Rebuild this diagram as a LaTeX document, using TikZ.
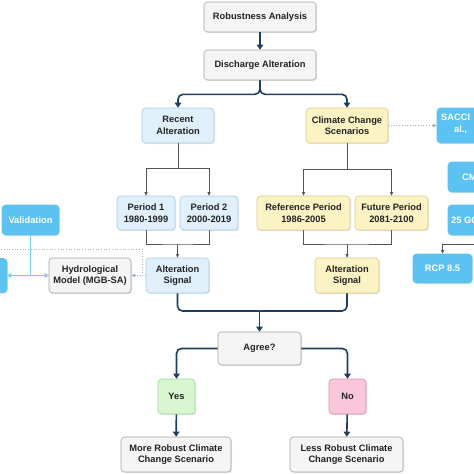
\documentclass[tikz,border=0pt]{standalone}
\usepackage{fontspec}
\setmainfont{Liberation Sans}
\usetikzlibrary{arrows.meta,shadows}
\definecolor{navy}{HTML}{1F3D5C}
\definecolor{txt}{HTML}{222222}
\definecolor{grayfill}{HTML}{F5F5F5}
\definecolor{grayline}{HTML}{A3A3A3}
\definecolor{bluefill}{HTML}{DFF0FB}
\definecolor{blueline}{HTML}{A9CCE3}
\definecolor{yelfill}{HTML}{FCF3C4}
\definecolor{yelline}{HTML}{D9C98A}
\definecolor{yesfill}{HTML}{D8F5D0}
\definecolor{yesline}{HTML}{9ED69A}
\definecolor{nofill}{HTML}{F9C6DC}
\definecolor{noline}{HTML}{D890B0}
\definecolor{sky}{HTML}{5BC2F2}
\definecolor{skyline}{HTML}{7CCBF2}
\definecolor{dotline}{HTML}{9FB0BF}
\definecolor{thinline}{HTML}{555555}
\begin{document}
\begin{tikzpicture}[x=1pt,y=-1pt,
  box/.style={draw, rounded corners=3.5pt, line width=0.6pt, inner sep=1pt, align=center,
    font=\fontsize{9.3}{11.5}\selectfont\bfseries, text=txt,
    drop shadow={shadow xshift=1pt, shadow yshift=-1.2pt, opacity=0.2}},
  graybox/.style={box, fill=grayfill, draw=grayline},
  bluebox/.style={box, fill=bluefill, draw=blueline},
  yelbox/.style={box, fill=yelfill, draw=yelline},
  skybox/.style={box, fill=sky, draw=sky, text=white},
  navyarrow/.style={draw=navy, line width=1.6pt, rounded corners=5pt, -{Triangle[length=5pt,width=6.5pt]}},
  navyline/.style={draw=navy, line width=1.6pt, rounded corners=5pt},
  thinarrow/.style={draw=thinline, line width=0.7pt, -{Triangle[length=3.5pt,width=3pt]}},
  thinline/.style={draw=thinline, line width=0.7pt},
  dotarrow/.style={draw=dotline, line width=0.7pt, dotted, -{Triangle[length=3.5pt,width=3pt]}},
  skyarrow/.style={draw=skyline, line width=1.3pt, -{Triangle[length=4pt,width=5pt]}}]
\clip (0,0) rectangle (474,474);

\node[graybox, minimum width=112pt, minimum height=30pt] (robust) at (260,17) {Robustness Analysis};
\node[graybox, minimum width=112pt, minimum height=30pt] (disc) at (260,65) {Discharge Alteration};

\node[bluebox, minimum width=72pt, minimum height=35pt] (recent) at (178,125.5) {Recent\\Alteration};
\node[yelbox, minimum width=82pt, minimum height=35pt] (ccs) at (347,125.5) {Climate Change\\Scenarios};
\node[skybox, minimum width=82pt, minimum height=35pt] (sacci) at (478,125.5) {};
\node[anchor=north west, inner sep=0pt, align=left, text=white, font=\fontsize{9.3}{11.5}\selectfont\bfseries] (saccitxt) at (441,114) {SACCI\\\hphantom{SA}al.,};

\node[bluebox, minimum width=58pt, minimum height=34pt] (p1) at (146,213) {Period 1\\1980-1999};
\node[bluebox, minimum width=58pt, minimum height=34pt] (p2) at (209,213) {Period 2\\2000-2019};
\node[yelbox, minimum width=93pt, minimum height=34pt] (ref) at (303.5,213) {Reference Period\\1986-2005};
\node[yelbox, minimum width=73pt, minimum height=34pt] (fut) at (391.5,213) {Future Period\\2081-2100};

\node[skybox, minimum width=72pt, minimum height=30pt] (cmip) at (484,177) {};
\node[anchor=west, inner sep=0pt, text=white, font=\fontsize{9.3}{11.5}\selectfont\bfseries] (cmiptxt) at (462,177) {CMIP5};
\node[skybox, minimum width=72pt, minimum height=30pt] (gcm) at (484,220) {};
\node[anchor=west, inner sep=0pt, text=white, font=\fontsize{9.3}{11.5}\selectfont\bfseries] (gcmtxt) at (451,220) {25 GCMs};
\node[skybox, minimum width=59pt, minimum height=29pt] (rcp) at (442.5,268.5) {RCP 8.5};

\node[skybox, minimum width=57pt, minimum height=30pt] (valid) at (30.5,220) {Validation};
\node[skybox, minimum width=57pt, minimum height=34pt] (calib) at (-21.5,275.5) {};
\node[graybox, minimum width=82pt, minimum height=35pt] (hydro) at (90,275.5) {Hydrological\\Model (MGB-SA)};
\node[bluebox, minimum width=63pt, minimum height=35pt] (sigL) at (177.5,275.5) {Alteration\\Signal};
\node[yelbox, minimum width=64pt, minimum height=35pt] (sigR) at (347,275.5) {Alteration\\Signal};

\node[graybox, minimum width=83pt, minimum height=33pt] (agree) at (259.5,348.5) {Agree?};
\node[box, fill=yesfill, draw=yesline, minimum width=37pt, minimum height=35pt] (yes) at (176.5,396.5) {Yes};
\node[box, fill=nofill, draw=noline, minimum width=37pt, minimum height=35pt] (no) at (347.5,396.5) {No};
\node[graybox, minimum width=110pt, minimum height=35pt] (more) at (176,454.5) {More Robust Climate\\Change Scenario};
\node[graybox, minimum width=113pt, minimum height=35pt] (less) at (346.5,454.5) {Less Robust Climate\\Change Scenario};

\coordinate (jl) at (177.5,244);
\coordinate (jr) at (347,244);
\coordinate (merge) at (259.5,311);
\coordinate (vj) at (30.5,275.5);
\coordinate (rcpin) at (480,244);
\coordinate (edgew) at (-2,249);

\draw[navyarrow] (robust) -- (disc);
\draw[navyarrow] (disc.south) -- ++(0,14) -| (recent.north);
\draw[navyarrow] (disc.south) -- ++(0,14) -| (ccs.north);

\draw[thinarrow] (recent.south) -- ++(0,25) -| (p1.north);
\draw[thinarrow] (recent.south) -- ++(0,25) -| (p2.north);
\draw[thinarrow] (ccs.south) -- ++(0,26) -| (ref.north);
\draw[thinarrow] (ccs.south) -- ++(0,26) -| (fut.north);
\draw[thinline] (p1.south) |- (jl) -| (p2.south);
\draw[thinline] (ref.south) |- (jr) -| (fut.south);
\draw[thinarrow] (jl) -- (sigL.north);
\draw[thinarrow] (jr) -- (sigR.north);
\draw[thinarrow] (rcpin) -| (rcp.north);

\draw[dotarrow] (ccs.east) -- (sacci.west);
\draw[dotarrow] (sigL.west) -- (hydro.east);
\draw[dotline, line width=0.7pt, dotted] ([xshift=-3pt]sigL.west) |- (edgew);

\draw[skyline, line width=1.3pt] (valid.south) -- (vj);
\draw[skyarrow] (vj) -- (hydro.west);
\draw[skyarrow] (vj) -- (calib.east);

\draw[navyline] (sigL.south) |- (merge);
\draw[navyline] (sigR.south) |- (merge);
\draw[navyarrow] (merge) -- (agree.north);
\draw[navyarrow] (agree.west) -| (yes.north);
\draw[navyarrow] (agree.east) -| (no.north);
\draw[navyarrow] (yes) -- (more);
\draw[navyarrow] (no) -- (less);
\end{tikzpicture}
\end{document}
